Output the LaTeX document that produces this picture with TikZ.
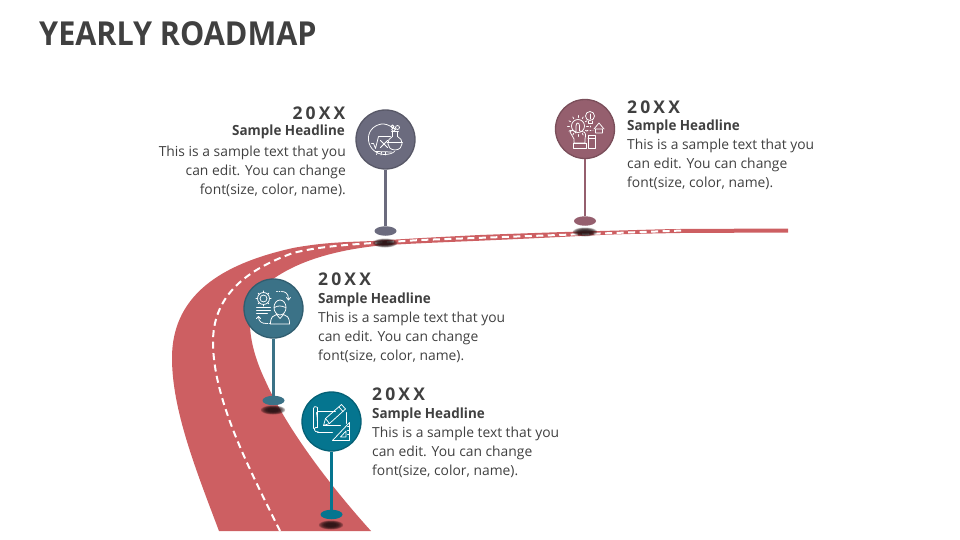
\documentclass[tikz,border=0pt]{standalone}
\usepackage{fontspec}
\setmainfont{Open Sans}
\newfontfamily\titlefam[FakeStretch=.926]{Open Sans}
\newfontfamily\headfam[FakeStretch=.96]{Open Sans}
\usetikzlibrary{shapes.geometric}
\definecolor{road}{HTML}{CD5F62}
\definecolor{ink}{HTML}{404040}
\definecolor{cgray}{HTML}{6B6B7E}
\definecolor{cmauve}{HTML}{955F6E}
\definecolor{cblue}{HTML}{3B7287}
\definecolor{cteal}{HTML}{05758F}
\definecolor{shadowc}{HTML}{1E0E10}
\tikzset{
  x=1pt,y=-1pt,
  disc/.style={circle,draw=#1!82!black,line width=1.3pt,fill=#1,minimum size=59pt,inner sep=0pt},
  pinfoot/.style={ellipse,fill=#1,minimum width=22pt,minimum height=9.5pt,inner sep=0pt},
  pinline/.style={draw=#1,line width=2.4pt},
  icon/.style={draw=white,line width=.75pt,line cap=round,line join=round},
  yeartxt/.style={font=\fontsize{17.5}{17.5}\selectfont\bfseries\addfontfeature{LetterSpace=18},text=ink,inner sep=0pt},
  headtxt/.style={font=\fontsize{14}{14}\headfam\bfseries,text=ink,inner sep=0pt},
  bodytxt/.style={font=\fontsize{13.85}{19}\selectfont,text=ink,inner sep=0pt},
}
\newcommand{\shadowat}[2]{%
  \foreach \k in {1,...,6}{
    \fill[shadowc,opacity=.3] (#1,#2) ellipse [x radius={13.5-1.3*\k},y radius={5-.5*\k}];
  }}
\begin{document}
\begin{tikzpicture}
\useasboundingbox (0,0) rectangle (960,540);
% road
\fill[road] (219,531)
  .. controls (196,470) and (172,410) .. (172,358)
  .. controls (172,290) and (230,262) .. (293,248)
  .. controls (325,242) and (350,242) .. (373,241)
  .. controls (410,238.5) and (450,236.5) .. (480,235)
  .. controls (520,233.5) and (560,232) .. (600,231)
  .. controls (640,230) and (660,229.2) .. (680,229)
  -- (788,228.5) -- (788,232.5) -- (680,233)
  .. controls (650,233.5) and (625,234) .. (600,235)
  .. controls (560,237) and (520,239) .. (480,240.7)
  .. controls (450,242) and (410,243.5) .. (380,245.5)
  .. controls (335,250) and (290,262) .. (262,288)
  .. controls (245,305) and (246,340) .. (265,380)
  .. controls (285,425) and (325,480) .. (371,531)
  -- cycle;
% centre dashes
\draw[white,line width=2pt,dash pattern=on 7pt off 4.5pt]
  (280,531) .. controls (250,470) and (213,400) .. (213,342)
  .. controls (213,300) and (240,272) .. (293,253)
  .. controls (325,245) and (360,244) .. (420,240)
  -- (683,230.5);
% shadows
\shadowat{385}{243}
\shadowat{585}{232}
\shadowat{273}{410}
\shadowat{331}{525}
% pins
\node[disc=cgray] (c1) at (385.5,139.5) {};
\node[pinfoot=cgray] (p1) at (385.5,231) {};
\draw[pinline=cgray] (c1) -- (p1);
\node[disc=cmauve] (c2) at (585,129) {};
\node[pinfoot=cmauve] (p2) at (585,221) {};
\draw[pinline=cmauve] (c2) -- (p2);
\node[disc=cblue] (c3) at (273.5,308.5) {};
\node[pinfoot=cblue] (p3) at (273.5,400.5) {};
\draw[pinline=cblue] (c3) -- (p3);
\node[disc=cteal] (c4) at (331.5,421.5) {};
\node[pinfoot=cteal] (p4) at (331.5,514.5) {};
\draw[pinline=cteal] (c4) -- (p4);
% icon 1
\begin{scope}[shift={(385.5,139.5)},icon]
  \draw (10,-10) .. controls (4,-15) and (-2,-16) .. (-4,-15.5)
     .. controls (-13,-14) and (-18,-7) .. (-17,1)
     .. controls (-16,9) and (-9,15) .. (-1,15) .. controls (3,15) and (7,14) .. (9,12);
  \draw (-14,4) -- (-12,4) -- (-10,9) -- (-7,-3) -- (5,-3);
  \draw (-5,1) -- (2,8) (2,1) -- (-5,8);
  \draw (7,-8) -- (7,-3) .. controls (1,-1) and (0,10) .. (9.5,10.5)
     .. controls (19,10) and (18,-1) .. (12,-3) -- (12,-8);
  \draw (1.5,3) -- (17,3);
  \draw (6,-8) -- (13,-8);
  \draw (8,-10) circle (1.8) (12,-12) circle (2) (7,-13) circle (1.5);
  \draw (-10,12) -- (6,12.5) (-8,12.5) -- (-9,15) (-4,12.5) -- (-4.5,15.5) (0,12.5) -- (0,15.5);
\end{scope}
% icon 2
\begin{scope}[shift={(585,129)},icon]
  \draw (-7,-3) circle (6.5);
  \foreach \a in {0,30,...,330}{\draw (-7,-3) ++(\a:8.5) -- ++(\a:2);}
  \draw (-9,-3) .. controls (-9,-7) and (-5.5,-7) .. (-5.5,-3) -- (-5.5,2) -- (-1,3) .. controls (1,4) and (1,8) .. (0,10) -- (0,14) -- (-11,14) -- (-11,10) -- (-15,3) .. controls (-15,1) and (-12,0) .. (-9,4) -- cycle;
  \draw (-12,14) -- (1,14) -- (1,19) -- (-12,19) -- cycle;
  \draw (5,-13) circle (4.5);
  \draw (3,-8) -- (3,-5.5) -- (7,-5.5) -- (7,-8) (5,-15) -- (5,-10);
  \draw (3,6) rectangle (10,19) (3,9) -- (10,9);
  \draw (9,0) -- (14,-6) -- (19,0) (10.5,0) -- (10.5,4) -- (17.5,4) -- (17.5,0) -- cycle;
  \draw[dash pattern=on 1pt off 2pt] (2,1) -- (8,1) (5,-3) -- (5,0);
\end{scope}
% icon 3
\begin{scope}[shift={(273.5,308.5)},icon]
  \draw (-10,-10) circle (3.5) (-10,-10) circle (6);
  \foreach \a in {0,45,...,315}{\draw (-10,-10) ++(\a:6) -- ++(\a:1.6);}
  \draw[dash pattern=on 1pt off 1.5pt] (3,-17) -- (8,-17);
  \draw (8,-17) .. controls (12,-17) and (15,-15) .. (15,-9);
  \draw (13,-11) -- (15,-8.5) -- (17,-11);
  \draw (-17,-1) -- (-3,-1) (-17,2) -- (-3,2) (-17,5) -- (-6,5);
  \draw[dash pattern=on 1pt off 1.5pt] (-3,15) -- (-7,15);
  \draw (-7,15) .. controls (-12,15) and (-15,13) .. (-15,8);
  \draw (-17,10) -- (-15,8) -- (-13,10);
  \draw (6.5,-1) circle[x radius=6,y radius=7.5];
  \draw (1,-1) .. controls (4,-3) and (8,-3) .. (12,-1);
  \draw (-3,15.5) .. controls (-3,8) and (0,7) .. (3,6) -- (6.5,10) -- (10,6) .. controls (13,7) and (16,8) .. (16,15.5) -- cycle;
\end{scope}
% icon 4
\begin{scope}[shift={(331.5,421.5)},icon]
  \draw (-14,-10) -- (4,-10) (15,-9) -- (15,2) (-14,10.5) -- (1,10.5);
  \draw (-15,-9) .. controls (-14,-5) and (-14,5) .. (-14,6)
     .. controls (-17,5) and (-18,8) .. (-16,10) .. controls (-15,11) and (-14,10.5) .. (-13,10.5);
  \draw (-14,6) -- (-14,-14) .. controls (-17,-16) and (-18,-14) .. (-18,-13) -- (-18,7);
  \draw (-8,4) -- (-6,-3) -- (10,-17) -- (14,-12.5) -- (-2,2) -- cycle;
  \draw (-6,-3) -- (-2,2) (7.5,-14.5) -- (11.5,-10);
  \draw (-8,4) -- (9,4);
  \draw (1,19) -- (18,19) -- (18,1) -- cycle;
  \draw (9,15.5) -- (14.5,15.5) -- (14.5,9.5) -- cycle;
  \draw (18,5) -- (16,5) (18,9) -- (16,9) (18,13) -- (16,13);
\end{scope}
% texts
\node[yeartxt,anchor=base east] (y1) at (345.5,119.5) {20XX};
\node[headtxt,anchor=base east] (h1) at (345,136) {Sample Headline};
\node[bodytxt,anchor=north east,align=right] (b1) at (346,146) {This is a sample text that you\\can edit. You can change\\font(size, color, name).};
\node[yeartxt,anchor=base west] (y2) at (627,114) {20XX};
\node[headtxt,anchor=base west] (h2) at (627,131) {Sample Headline};
\node[bodytxt,anchor=north west,align=left] (b2) at (627,139) {This is a sample text that you\\can edit. You can change\\font(size, color, name).};
\node[yeartxt,anchor=base west] (y3) at (318,285) {20XX};
\node[headtxt,anchor=base west] (h3) at (318,303) {Sample Headline};
\node[bodytxt,anchor=north west,align=left] (b3) at (318,312) {This is a sample text that you\\can edit. You can change\\font(size, color, name).};
\node[yeartxt,anchor=base west] (y4) at (372,400.5) {20XX};
\node[headtxt,anchor=base west] (h4) at (372,418) {Sample Headline};
\node[bodytxt,anchor=north west,align=left] (b4) at (372,427) {This is a sample text that you\\can edit. You can change\\font(size, color, name).};
\node[font=\fontsize{33}{33}\titlefam\bfseries,text=ink,anchor=base west,inner sep=0pt] (title) at (39,46) {YEARLY ROADMAP};
\end{tikzpicture}
\end{document}
